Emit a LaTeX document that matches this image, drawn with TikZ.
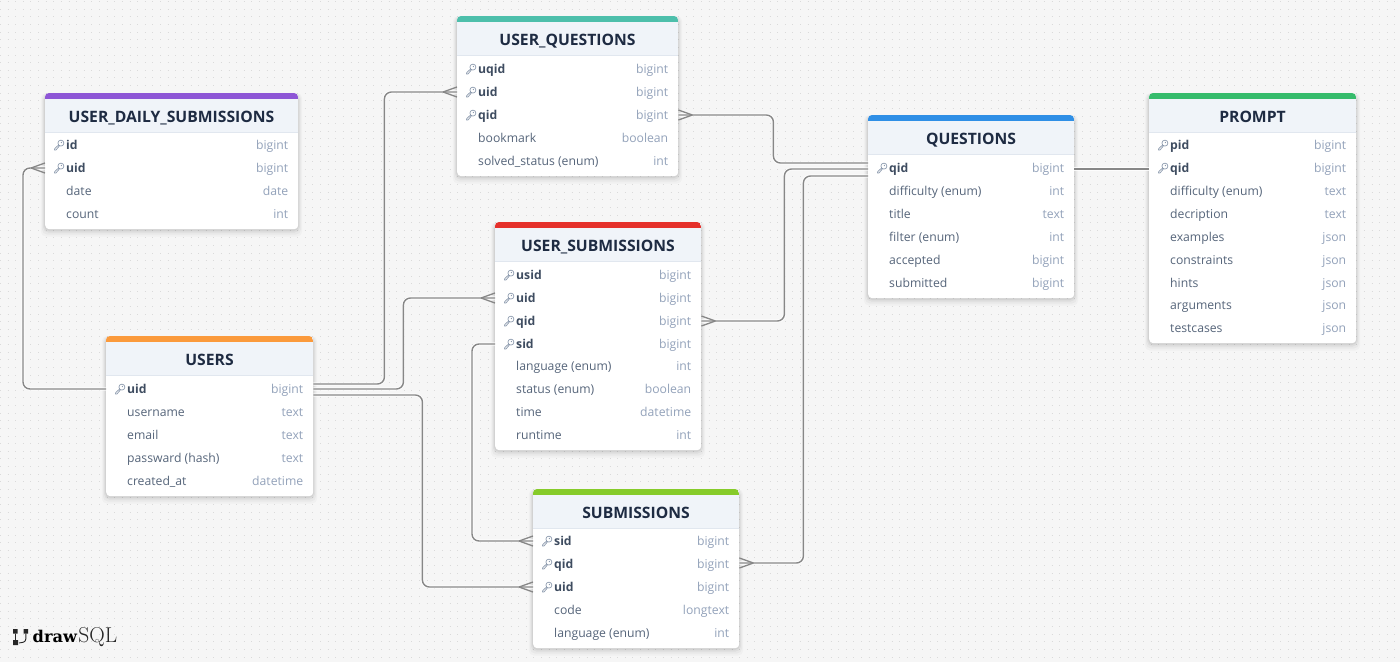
\documentclass[tikz,border=0pt]{standalone}
\usepackage{fontspec}
\setmainfont{Open Sans}
\newfontfamily\logobold{DejaVu Serif}
\newfontfamily\logolight{Latin Modern Roman}
\usetikzlibrary{calc}
\definecolor{canvas}{HTML}{F6F6F6}
\definecolor{griddot}{HTML}{DADADA}
\definecolor{headbg}{HTML}{F0F4F9}
\definecolor{headline}{HTML}{E1E7EF}
\definecolor{titleink}{HTML}{1E2B42}
\definecolor{nameink}{HTML}{56657A}
\definecolor{keyink}{HTML}{3E4C60}
\definecolor{typeink}{HTML}{93A2BA}
\definecolor{iconink}{HTML}{8C9AAE}
\definecolor{connink}{HTML}{878787}
\definecolor{cteal}{HTML}{4DBFAB}
\definecolor{cpurple}{HTML}{8E56D6}
\definecolor{cred}{HTML}{E5302B}
\definecolor{corange}{HTML}{FB9A3C}
\definecolor{cgreen}{HTML}{86CB2A}
\definecolor{cblue}{HTML}{2F8FE6}
\definecolor{cemerald}{HTML}{36BC6C}
\tikzset{
  x=1pt,y=-1pt,
  tablebox/.style={anchor=north west,inner sep=0pt,fill=white,rounded corners=4pt},
  titletext/.style={inner sep=0pt,text height=11pt,text depth=0pt,font=\fontsize{15.7}{18}\selectfont\bfseries,text=titleink},
  rowbox/.style={anchor=west,inner sep=0pt,text height=9.4pt,text depth=0pt,font=\fontsize{12.2}{14}\selectfont},
  conn/.style={draw=connink,line width=1.4pt,rounded corners=7pt,
    preaction={draw=white,line width=3.2pt,opacity=.8}},
  crowline/.style={draw=connink,line width=1.3pt},
  griddots/.style={draw=griddot,line width=1pt,dash pattern=on 1pt off 6.62pt},
  keyicon/.pic={
    \draw[iconink,line width=.7pt,line cap=round,line join=round]
      (1.9,-1.9) circle[radius=3]
      (-0.4,0) -- (-4.3,3.6) -- (-4.5,5) -- (-3,4.9) -- (0.2,1.2)
      (2.4,-2.5) circle[radius=.3];
  }
}
\newcommand{\dbtable}[7]{% name, x, y, w, h, colour, title
  \foreach \g/\o in {7/.025,5/.03,3/.04,1.5/.05}{
    \fill[black,opacity=\o,rounded corners=5pt]
      ({#2-\g*.6},{#3+1.5-\g*.2}) rectangle ({#2+#4+\g*.6},{#3+#5+\g+.5});
  }
  \node[tablebox,minimum width=#4 pt,minimum height=#5 pt] (#1) at (#2,#3) {};
  \begin{scope}
    \clip[rounded corners=4pt] (#2,#3) rectangle ++(#4,#5);
    \fill[headbg] (#2,#3) rectangle ++(#4,39);
    \fill[#6] (#2,#3) rectangle ++(#4,6);
    \draw[headline,line width=.8pt] (#2,#3+39) -- ++(#4,0);
  \end{scope}
  \node[titletext] (#1-title) at ({#2+#4/2},{#3+23.9}) {#7};
}
% row node: name, table x, y, width, type, text
\newcommand{\keyrow}[6]{%
  \node[rowbox] (#1) at (#2,#3) {\makebox[#4pt]{\hspace{21pt}\textcolor{keyink}{\textbf{#6}}\hfill\textcolor{typeink}{#5}\hspace{10pt}}};
  \pic at ({#2+14},{#3}) {keyicon};
}
\newcommand{\plainrow}[6]{%
  \node[rowbox] (#1) at (#2,#3) {\makebox[#4pt]{\hspace{21pt}\textcolor{nameink}{#6}\hfill\textcolor{typeink}{#5}\hspace{10pt}}};
}
\newcommand{\crowtoleft}[1]{%
  \draw[crowline] ($(#1)+(-14,0)$) -- ($(#1)+(0,-5)$) ($(#1)+(-14,0)$) -- ($(#1)+(0,5)$);
}
\newcommand{\crowtoright}[1]{%
  \draw[crowline] ($(#1)+(14,0)$) -- ($(#1)+(0,-5)$) ($(#1)+(14,0)$) -- ($(#1)+(0,5)$);
}
\begin{document}
\begin{tikzpicture}
\useasboundingbox (0,0) rectangle (1400,662);
\fill[canvas] (0,0) rectangle (1400,662);
\foreach \r in {0,...,86}{
  \draw[griddots] (0,{1.7+\r*7.62}) -- (1400,{1.7+\r*7.62});
}

% tables
\dbtable{uq}{457}{16}{221}{160}{cteal}{USER\_QUESTIONS}
\keyrow{uq1}{457}{69}{221}{bigint}{uqid}
\keyrow{uq2}{457}{92}{221}{bigint}{uid}
\keyrow{uq3}{457}{115}{221}{bigint}{qid}
\plainrow{uq4}{457}{138}{221}{boolean}{bookmark}
\plainrow{uq5}{457}{161}{221}{int}{solved\_status (enum)}

\dbtable{uds}{45}{93}{253}{136}{cpurple}{USER\_DAILY\_SUBMISSIONS}
\keyrow{uds1}{45}{145}{253}{bigint}{id}
\keyrow{uds2}{45}{168}{253}{bigint}{uid}
\plainrow{uds3}{45}{191}{253}{date}{date}
\plainrow{uds4}{45}{214}{253}{int}{count}

\dbtable{us}{495}{222}{206}{228}{cred}{USER\_SUBMISSIONS}
\keyrow{us1}{495}{275}{206}{bigint}{usid}
\keyrow{us2}{495}{298}{206}{bigint}{uid}
\keyrow{us3}{495}{321}{206}{bigint}{qid}
\keyrow{us4}{495}{344}{206}{bigint}{sid}
\plainrow{us5}{495}{366}{206}{int}{language (enum)}
\plainrow{us6}{495}{389}{206}{boolean}{status (enum)}
\plainrow{us7}{495}{412}{206}{datetime}{time}
\plainrow{us8}{495}{435}{206}{int}{runtime}

\dbtable{users}{106}{336}{207}{160}{corange}{USERS}
\keyrow{users1}{106}{389}{207}{bigint}{uid}
\plainrow{users2}{106}{412}{207}{text}{username}
\plainrow{users3}{106}{435}{207}{text}{email}
\plainrow{users4}{106}{458}{207}{text}{passward (hash)}
\plainrow{users5}{106}{481}{207}{datetime}{created\_at}

\dbtable{sub}{533}{489}{206}{159}{cgreen}{SUBMISSIONS}
\keyrow{sub1}{533}{541}{206}{bigint}{sid}
\keyrow{sub2}{533}{564}{206}{bigint}{qid}
\keyrow{sub3}{533}{587}{206}{bigint}{uid}
\plainrow{sub4}{533}{610}{206}{longtext}{code}
\plainrow{sub5}{533}{633}{206}{int}{language (enum)}

\dbtable{q}{868}{115}{206}{183}{cblue}{QUESTIONS}
\keyrow{q1}{868}{168}{206}{bigint}{qid}
\plainrow{q2}{868}{191}{206}{int}{difficulty (enum)}
\plainrow{q3}{868}{214}{206}{text}{title}
\plainrow{q4}{868}{237}{206}{int}{filter (enum)}
\plainrow{q5}{868}{260}{206}{bigint}{accepted}
\plainrow{q6}{868}{283}{206}{bigint}{submitted}

\dbtable{p}{1149}{93}{207}{250}{cemerald}{PROMPT}
\keyrow{p1}{1149}{145}{207}{bigint}{pid}
\keyrow{p2}{1149}{168}{207}{bigint}{qid}
\plainrow{p3}{1149}{191}{207}{text}{difficulty (enum)}
\plainrow{p4}{1149}{214}{207}{text}{decription}
\plainrow{p5}{1149}{237}{207}{json}{examples}
\plainrow{p6}{1149}{260}{207}{json}{constraints}
\plainrow{p7}{1149}{283}{207}{json}{hints}
\plainrow{p8}{1149}{305}{207}{json}{arguments}
\plainrow{p9}{1149}{328}{207}{json}{testcases}

% connectors
\draw[conn] ([yshift=5pt]users1.east) -- ++(71,0) |- (uq2.west);
\crowtoleft{uq2.west}
\draw[conn] ([yshift=0pt]users1.east) -- ++(90,0) |- (us2.west);
\crowtoleft{us2.west}
\draw[conn] ([yshift=-6pt]users1.east) -- ++(109,0) |- (sub3.west);
\crowtoleft{sub3.west}
\draw[conn] (users1.west) -- ++(-83,0) |- (uds2.west);
\crowtoleft{uds2.west}
\draw[conn] (us4.west) -- ++(-23,0) |- (sub1.west);
\crowtoleft{sub1.west}
\draw[conn] (uq3.east) -- ++(95,0) |- ([yshift=5pt]q1.west);
\crowtoright{uq3.east}
\draw[conn] (us3.east) -- ++(83,0) |- ([yshift=-1pt]q1.west);
\crowtoright{us3.east}
\draw[conn] ([yshift=1pt]sub2.east) -- ++(64,0) |- ([yshift=-8pt]q1.west);
\crowtoright{[yshift=1pt]sub2.east}
\draw[conn] ([yshift=-1pt]q1.east) -- ([yshift=-1pt]p2.west);

% logo
\node[anchor=base west,inner sep=0pt,font=\logobold\bfseries\fontsize{16.2}{18}\selectfont,text=black] (logoa) at (32.5,642) {draw};
\node[anchor=base west,inner sep=0pt,font=\logolight\fontsize{21.5}{22}\selectfont,text=black!85] (logob) at ([xshift=1pt]logoa.base east) {SQL};
\fill[black!85] (13,629) rectangle ++(4.6,4.6) (23.5,629) rectangle ++(4.6,4.6) (13,640) rectangle ++(5,5);
\draw[black!85,line width=.9pt] (15.5,633.5) -- (15.5,640) (25.8,633.5) -- (25.8,639) to[out=-90,in=0] (19,643);
\end{tikzpicture}
\end{document}
